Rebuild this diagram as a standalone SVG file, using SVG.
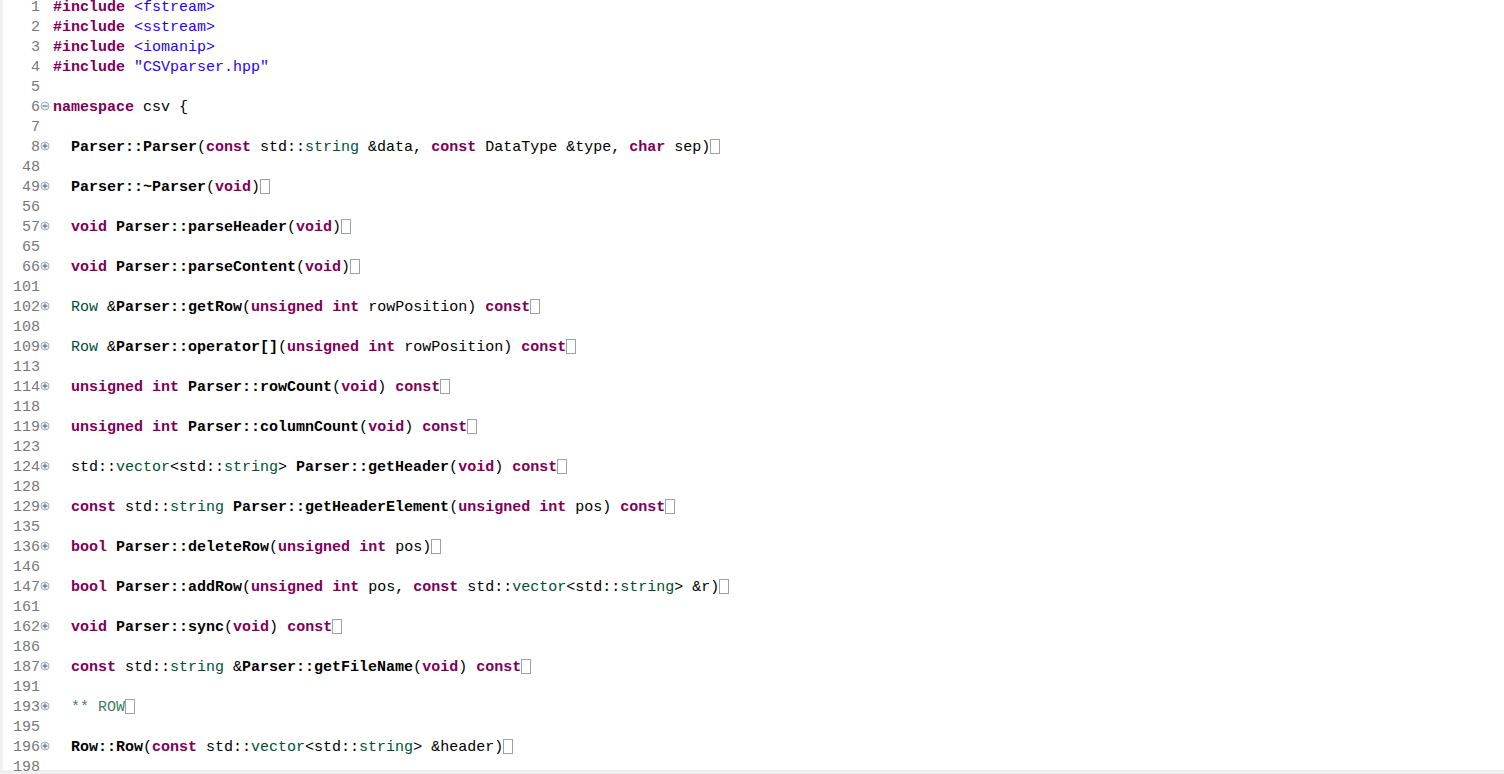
<svg xmlns="http://www.w3.org/2000/svg" width="1504" height="774" viewBox="0 0 1504 774">
<style>
text{font-family:"Liberation Mono","DejaVu Sans Mono",monospace;font-size:15px;white-space:pre;fill:#000}
.n{fill:#787878;text-anchor:end}
.k{fill:#7f0055;font-weight:bold}
.b{font-weight:bold}
.t{fill:#005032}
.s{fill:#2a00ff}
.c{fill:#3f7f5f}
.f{fill:#eef0f4;stroke:#8a9bb0;stroke-width:0.8}
.fl{stroke:#4a5a70;stroke-width:1}
.bx{fill:none;stroke:#a0a0a0;stroke-width:1}
</style>
<rect width="1504" height="774" fill="#fff"/>
<rect x="0" y="0" width="3" height="774" fill="#f0f0f0"/>
<rect x="0" y="770" width="1504" height="4" fill="#f0f0f0"/>
<g id="numbers">
<text class="n" x="40" y="11">1</text><text class="n" x="40" y="31">2</text><text class="n" x="40" y="51">3</text><text class="n" x="40" y="71">4</text><text class="n" x="40" y="91">5</text><text class="n" x="40" y="111">6</text><text class="n" x="40" y="131">7</text><text class="n" x="40" y="151">8</text><text class="n" x="40" y="171">48</text><text class="n" x="40" y="191">49</text><text class="n" x="40" y="211">56</text><text class="n" x="40" y="231">57</text><text class="n" x="40" y="251">65</text><text class="n" x="40" y="271">66</text><text class="n" x="40" y="291">101</text><text class="n" x="40" y="311">102</text><text class="n" x="40" y="331">108</text><text class="n" x="40" y="351">109</text><text class="n" x="40" y="371">113</text><text class="n" x="40" y="391">114</text><text class="n" x="40" y="411">118</text><text class="n" x="40" y="431">119</text><text class="n" x="40" y="451">123</text><text class="n" x="40" y="471">124</text><text class="n" x="40" y="491">128</text><text class="n" x="40" y="511">129</text><text class="n" x="40" y="531">135</text><text class="n" x="40" y="551">136</text><text class="n" x="40" y="571">146</text><text class="n" x="40" y="591">147</text><text class="n" x="40" y="611">161</text><text class="n" x="40" y="631">162</text><text class="n" x="40" y="651">186</text><text class="n" x="40" y="671">187</text><text class="n" x="40" y="691">191</text><text class="n" x="40" y="711">193</text><text class="n" x="40" y="731">195</text><text class="n" x="40" y="751">196</text><text class="n" x="40" y="771">198</text>
</g>
<g id="folds">
<circle class="f" cx="45" cy="106" r="4"/><line class="fl" x1="42.5" y1="106" x2="47.5" y2="106"/>
<g id="plus">
<circle class="f" cx="45" cy="146" r="4"/><line class="fl" x1="42.5" y1="146" x2="47.5" y2="146"/><line class="fl" x1="45" y1="143.5" x2="45" y2="148.5"/>
</g>
<use href="#plus" y="40"/><use href="#plus" y="80"/><use href="#plus" y="120"/><use href="#plus" y="160"/><use href="#plus" y="200"/><use href="#plus" y="240"/><use href="#plus" y="280"/><use href="#plus" y="320"/><use href="#plus" y="360"/><use href="#plus" y="400"/><use href="#plus" y="440"/><use href="#plus" y="480"/><use href="#plus" y="520"/><use href="#plus" y="560"/><use href="#plus" y="600"/>
</g>
<g id="code">
<text x="53" y="11"><tspan class="k">#include</tspan> <tspan class="s">&lt;fstream&gt;</tspan></text>
<text x="53" y="31"><tspan class="k">#include</tspan> <tspan class="s">&lt;sstream&gt;</tspan></text>
<text x="53" y="51"><tspan class="k">#include</tspan> <tspan class="s">&lt;iomanip&gt;</tspan></text>
<text x="53" y="71"><tspan class="k">#include</tspan> <tspan class="s">"CSVparser.hpp"</tspan></text>
<text x="53" y="111"><tspan class="k">namespace</tspan> csv {</text>
<text x="53" y="151">  <tspan class="b">Parser::Parser</tspan>(<tspan class="k">const</tspan> std::<tspan class="t">string</tspan> &amp;data, <tspan class="k">const</tspan> DataType &amp;type, <tspan class="k">char</tspan> sep)</text>
<text x="53" y="191">  <tspan class="b">Parser::~Parser</tspan>(<tspan class="k">void</tspan>)</text>
<text x="53" y="231">  <tspan class="k">void</tspan> <tspan class="b">Parser::parseHeader</tspan>(<tspan class="k">void</tspan>)</text>
<text x="53" y="271">  <tspan class="k">void</tspan> <tspan class="b">Parser::parseContent</tspan>(<tspan class="k">void</tspan>)</text>
<text x="53" y="311">  <tspan class="t">Row</tspan> &amp;<tspan class="b">Parser::getRow</tspan>(<tspan class="k">unsigned</tspan> <tspan class="k">int</tspan> rowPosition) <tspan class="k">const</tspan></text>
<text x="53" y="351">  <tspan class="t">Row</tspan> &amp;<tspan class="b">Parser::operator[]</tspan>(<tspan class="k">unsigned</tspan> <tspan class="k">int</tspan> rowPosition) <tspan class="k">const</tspan></text>
<text x="53" y="391">  <tspan class="k">unsigned</tspan> <tspan class="k">int</tspan> <tspan class="b">Parser::rowCount</tspan>(<tspan class="k">void</tspan>) <tspan class="k">const</tspan></text>
<text x="53" y="431">  <tspan class="k">unsigned</tspan> <tspan class="k">int</tspan> <tspan class="b">Parser::columnCount</tspan>(<tspan class="k">void</tspan>) <tspan class="k">const</tspan></text>
<text x="53" y="471">  std::<tspan class="t">vector</tspan>&lt;std::<tspan class="t">string</tspan>&gt; <tspan class="b">Parser::getHeader</tspan>(<tspan class="k">void</tspan>) <tspan class="k">const</tspan></text>
<text x="53" y="511">  <tspan class="k">const</tspan> std::<tspan class="t">string</tspan> <tspan class="b">Parser::getHeaderElement</tspan>(<tspan class="k">unsigned</tspan> <tspan class="k">int</tspan> pos) <tspan class="k">const</tspan></text>
<text x="53" y="551">  <tspan class="k">bool</tspan> <tspan class="b">Parser::deleteRow</tspan>(<tspan class="k">unsigned</tspan> <tspan class="k">int</tspan> pos)</text>
<text x="53" y="591">  <tspan class="k">bool</tspan> <tspan class="b">Parser::addRow</tspan>(<tspan class="k">unsigned</tspan> <tspan class="k">int</tspan> pos, <tspan class="k">const</tspan> std::<tspan class="t">vector</tspan>&lt;std::<tspan class="t">string</tspan>&gt; &amp;r)</text>
<text x="53" y="631">  <tspan class="k">void</tspan> <tspan class="b">Parser::sync</tspan>(<tspan class="k">void</tspan>) <tspan class="k">const</tspan></text>
<text x="53" y="671">  <tspan class="k">const</tspan> std::<tspan class="t">string</tspan> &amp;<tspan class="b">Parser::getFileName</tspan>(<tspan class="k">void</tspan>) <tspan class="k">const</tspan></text>
<text x="53" y="711">  <tspan class="c">** ROW</tspan></text>
<text x="53" y="751">  <tspan class="b">Row::Row</tspan>(<tspan class="k">const</tspan> std::<tspan class="t">vector</tspan>&lt;std::<tspan class="t">string</tspan>&gt; &amp;header)</text>
</g>
<g id="foldboxes">
<rect class="bx" x="710.5" y="139.5" width="9" height="14"/>
<rect class="bx" x="260.5" y="179.5" width="9" height="14"/>
<rect class="bx" x="341.5" y="219.5" width="9" height="14"/>
<rect class="bx" x="350.5" y="259.5" width="9" height="14"/>
<rect class="bx" x="530.5" y="299.5" width="9" height="14"/>
<rect class="bx" x="566.5" y="339.5" width="9" height="14"/>
<rect class="bx" x="440.5" y="379.5" width="9" height="14"/>
<rect class="bx" x="467.5" y="419.5" width="9" height="14"/>
<rect class="bx" x="557.5" y="459.5" width="9" height="14"/>
<rect class="bx" x="665.5" y="499.5" width="9" height="14"/>
<rect class="bx" x="431.5" y="539.5" width="9" height="14"/>
<rect class="bx" x="719.5" y="579.5" width="9" height="14"/>
<rect class="bx" x="332.5" y="619.5" width="9" height="14"/>
<rect class="bx" x="521.5" y="659.5" width="9" height="14"/>
<rect class="bx" x="125.5" y="699.5" width="9" height="14"/>
<rect class="bx" x="503.5" y="739.5" width="9" height="14"/>
</g>
</svg>
